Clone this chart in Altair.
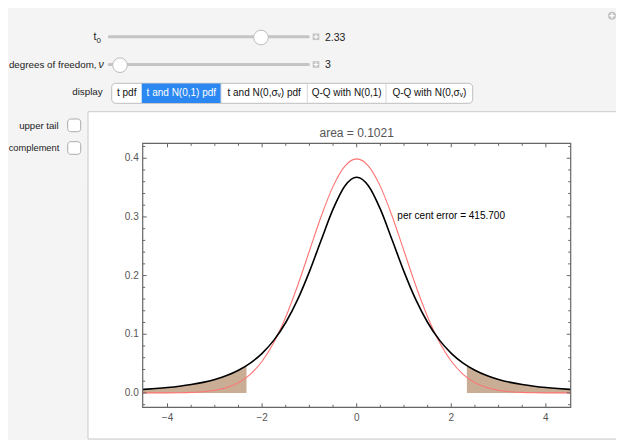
import altair as alt
import pandas as pd

# ---------------- data ----------------
x_vals = [-4.75, -4.5, -4.25, -4.0, -3.75, -3.5, -3.25, -3.0, -2.75, -2.5, -2.25, -2.0,
          -1.75, -1.5, -1.25, -1.0, -0.75, -0.5, -0.25, 0.0, 0.25, 0.5, 0.75, 1.0,
          1.25, 1.5, 1.75, 2.0, 2.25, 2.5, 2.75, 3.0, 3.25, 3.5, 3.75, 4.0, 4.25, 4.5, 4.75]
t_pdf = [0.00506, 0.00612, 0.00746, 0.00916, 0.01136, 0.01422, 0.01798, 0.02297, 0.02965,
         0.03866, 0.05089, 0.06751, 0.09000, 0.12002, 0.15891, 0.20675, 0.26065, 0.31318,
         0.35270, 0.36755, 0.35270, 0.31318, 0.26065, 0.20675, 0.15891, 0.12002, 0.09000,
         0.06751, 0.05089, 0.03866, 0.02965, 0.02297, 0.01798, 0.01422, 0.01136, 0.00916,
         0.00746, 0.00612, 0.00506]
normal_pdf = [0.00001, 0.00002, 0.00005, 0.00013, 0.00035, 0.00087, 0.00203, 0.00443, 0.00909,
              0.01753, 0.03174, 0.05399, 0.08628, 0.12952, 0.18265, 0.24197, 0.30114, 0.35207,
              0.38667, 0.39894, 0.38667, 0.35207, 0.30114, 0.24197, 0.18265, 0.12952, 0.08628,
              0.05399, 0.03174, 0.01753, 0.00909, 0.00443, 0.00203, 0.00087, 0.00035, 0.00013,
              0.00005, 0.00002, 0.00001]
t0 = 2.33
t_at_t0 = 0.04656

x_major = [-4, -2, 0, 2, 4]
x_minor = [-3.5, -3, -2.5, -1.5, -1, -0.5, 0.5, 1, 1.5, 2.5, 3, 3.5]
y_major = [0.0, 0.1, 0.2, 0.3, 0.4]
y_minor = [-0.02, 0.02, 0.04, 0.06, 0.08, 0.12, 0.14, 0.16, 0.18, 0.22, 0.24, 0.26, 0.28,
           0.32, 0.34, 0.36, 0.38, 0.42]

title_text = "area = 0.1021"
error_text = "per cent error = 415.700"
t0_label = "2.33"
nu_label = "3"
button_labels = ["t pdf", "t and N(0,1) pdf", "t and N(0,\u03c3\u1d65) pdf",
                 "Q-Q with N(0,1)", "Q-Q with N(0,\u03c3\u1d65)"]
check_labels = ["upper tail", "complement"]

# ---------------- tables ----------------
curves = pd.DataFrame({"x": x_vals, "t": t_pdf, "n": normal_pdf})
lx = [x for x in x_vals if x <= -t0] + [-t0]
ly = [y for x, y in zip(x_vals, t_pdf) if x <= -t0] + [t_at_t0]
rx = [t0] + [x for x in x_vals if x >= t0]
ry = [t_at_t0] + [y for x, y in zip(x_vals, t_pdf) if x >= t0]
tails = pd.DataFrame({"x": lx + rx, "t": ly + ry,
                      "side": ["lower"] * len(lx) + ["upper"] * len(rx)})

FONT = "Liberation Sans"
W, H = 428, 264
OX, OY = 142.7, 143.3  # page position of the plot frame's top-left corner
XD = [-4.525, 4.525]
YD = [-0.0245, 0.4255]

xs = alt.Scale(domain=XD, nice=False, zero=False)
ys = alt.Scale(domain=YD, nice=False, zero=False)

one = pd.DataFrame({"k": [0]})


def P(v):
    return v - OX


def Q(v):
    return v - OY


def box(x1, y1, x2, y2, **kw):
    return alt.Chart(one).mark_rect(**kw).encode(
        x=alt.value(P(x1)), x2=alt.value(P(x2)), y=alt.value(Q(y1)), y2=alt.value(Q(y2)))


def line(x1, y1, x2, y2, **kw):
    return alt.Chart(one).mark_rule(**kw).encode(
        x=alt.value(P(x1)), x2=alt.value(P(x2)), y=alt.value(Q(y1)), y2=alt.value(Q(y2)))


def label(x, y, s, align="left", size=9.5, color="#222222", **kw):
    return alt.Chart(one).mark_text(text=s, align=align, baseline="alphabetic", font=FONT,
                                    fontSize=size, color=color, **kw).encode(
        x=alt.value(P(x)), y=alt.value(Q(y)))


def dot(x, y, size, **kw):
    return alt.Chart(one).mark_circle(size=size, opacity=1, **kw).encode(
        x=alt.value(P(x)), y=alt.value(Q(y)))


def plusbox(cx, cy):
    return [box(cx - 3.3, cy - 3.3, cx + 3.3, cy + 3.3, fill="#c4c4c4"),
            line(cx - 2.2, cy, cx + 2.2, cy, color="white", strokeWidth=1.2),
            line(cx, cy - 2.2, cx, cy + 2.2, color="white", strokeWidth=1.2)]


deco = []
# panel and plot box
deco.append(box(-3, 1, 621.7, 443.5, fill="#f4f4f4", stroke="#dadada", cornerRadius=5))
deco.append(box(88, 111.7, 616.7, 439, fill="white", stroke="#c9c9c9"))
# top-right icon
deco.append(dot(612, 15.7, 64, color="#c2c2c2"))
deco.append(line(609.5, 15.7, 614.5, 15.7, color="white", strokeWidth=1.4))
deco.append(line(612, 13.2, 612, 18.2, color="white", strokeWidth=1.4))
# slider t0
deco.append(label(96.3, 39.5, "t", align="right", size=10.5))
deco.append(label(96.6, 43, "0", size=8))
deco.append(line(109.3, 36.8, 308.3, 36.8, color="#c4c4c4", strokeWidth=3, strokeCap="round"))
deco.append(dot(261, 37.5, 215, color="white", stroke="#bdbdbd", strokeWidth=1))
deco += plusbox(316, 36.8)
deco.append(label(325, 40.5, t0_label, size=10.5))
# slider nu
deco.append(label(96.6, 68, "degrees of freedom,", align="right", size=9.8))
deco.append(label(98.4, 68, "\u03bd", size=10.5, fontStyle="italic"))
deco.append(line(109.3, 64.5, 308.3, 64.5, color="#c4c4c4", strokeWidth=3, strokeCap="round"))
deco.append(dot(120, 65.2, 215, color="white", stroke="#bdbdbd", strokeWidth=1))
deco += plusbox(316, 64.5)
deco.append(label(325, 68.2, nu_label, size=10.5))
# display buttons
deco.append(label(102.7, 95, "display", align="right", size=9.8))
edges = [111.7, 141.7, 221, 307.3, 386, 472.7]
deco.append(box(edges[0], 83.3, edges[-1], 103.3, fill="white", stroke="#bdbdbd", cornerRadius=4))
deco.append(box(edges[1], 83.6, edges[2], 103, fill="#2b88f2"))
for e in edges[2:-1]:
    deco.append(line(e, 83.8, e, 102.8, color="#d6d6d6"))
for i, s in enumerate(button_labels):
    deco.append(label((edges[i] + edges[i + 1]) / 2, 95.5, s, align="center", size=10,
                      color="white" if i == 1 else "#111111"))
# checkboxes
deco.append(label(58.6, 128.6, check_labels[0], align="right", size=9.6))
deco.append(box(67.7, 119, 80.7, 131.7, fill="white", stroke="#ababab", cornerRadius=3))
deco.append(label(59.3, 151.3, check_labels[1], align="right", size=9.3))
deco.append(box(67.7, 141.7, 80.7, 154.3, fill="white", stroke="#ababab", cornerRadius=3))

# ---------------- plot ----------------
tail_area = alt.Chart(tails).mark_area(color="#c9ae95", interpolate="monotone", clip=True).encode(
    x=alt.X("x:Q", scale=xs, axis=None),
    y=alt.Y("t:Q", scale=ys, axis=None),
    y2=alt.datum(0),
    detail="side:N",
)
normal_line = alt.Chart(curves).mark_line(color="#ff7373", strokeWidth=1.1, interpolate="monotone",
                                          clip=True).encode(
    x=alt.X("x:Q", scale=xs, axis=None), y=alt.Y("n:Q", scale=ys, axis=None))
t_line = alt.Chart(curves).mark_line(color="black", strokeWidth=1.6, interpolate="monotone",
                                     clip=True).encode(
    x=alt.X("x:Q", scale=xs, axis=None), y=alt.Y("t:Q", scale=ys, axis=None))

# annotation anchored at data position (0.86, 0.296)
err_x = (0.86 - XD[0]) / (XD[1] - XD[0]) * W
err_y = (YD[1] - 0.296) / (YD[1] - YD[0]) * H
err = alt.Chart(one).mark_text(text=error_text, align="left", baseline="alphabetic", font=FONT,
                               fontSize=10, color="black").encode(
    x=alt.value(err_x), y=alt.value(err_y))
title_mark = alt.Chart(one).mark_text(text=title_text, align="center", baseline="alphabetic",
                                      font=FONT, fontSize=12, color="#555555").encode(
    x=alt.value(W / 2), y=alt.value(-6))

TICK = "#666666"
xM = pd.DataFrame({"x": x_major})
xm = pd.DataFrame({"x": x_minor})
yM = pd.DataFrame({"y": y_major})
ym = pd.DataFrame({"y": y_minor})


def xticks(df, L):
    bot = alt.Chart(df).mark_rule(color=TICK, strokeWidth=1).encode(
        x=alt.X("x:Q", scale=xs, axis=None), y=alt.value(H), y2=alt.value(H - L))
    top = alt.Chart(df).mark_rule(color=TICK, strokeWidth=1).encode(
        x=alt.X("x:Q", scale=xs, axis=None), y=alt.value(0), y2=alt.value(L))
    return [bot, top]


def yticks(df, L):
    left = alt.Chart(df).mark_rule(color=TICK, strokeWidth=1).encode(
        y=alt.Y("y:Q", scale=ys, axis=None), x=alt.value(0), x2=alt.value(L))
    right = alt.Chart(df).mark_rule(color=TICK, strokeWidth=1).encode(
        y=alt.Y("y:Q", scale=ys, axis=None), x=alt.value(W), x2=alt.value(W - L))
    return [left, right]


ticks = xticks(xM, 4) + xticks(xm, 2.5) + yticks(yM, 4) + yticks(ym, 2.5)

x_labels = alt.Chart(xM).mark_text(baseline="top", align="center", font=FONT, fontSize=10,
                                   color="#555555").encode(
    x=alt.X("x:Q", scale=xs, axis=None), y=alt.value(H + 6),
    text=alt.Text("x:Q", format="d"))
y_labels = alt.Chart(yM).mark_text(baseline="middle", align="right", font=FONT, fontSize=10,
                                   color="#555555").encode(
    y=alt.Y("y:Q", scale=ys, axis=None), x=alt.value(-4),
    text=alt.Text("y:Q", format=".1f"))

frame = alt.Chart(one).mark_rect(fillOpacity=0, stroke="#666666", strokeWidth=1.2).encode(
    x=alt.value(0), x2=alt.value(W), y=alt.value(0), y2=alt.value(H))

chart = alt.layer(*deco, tail_area, normal_line, t_line, err, title_mark, *ticks,
                  x_labels, y_labels, frame).properties(
    width=W, height=H,
    autosize=alt.AutoSizeParams(type="none"),
    padding={"left": OX - 8, "top": OY - 8, "right": 608 - (OX - 8) - W,
             "bottom": 432 - (OY - 8) - H},
    background="white",
).configure_view(stroke="transparent")

chart.save("out.html", embed_options={"renderer": "svg", "actions": False})
